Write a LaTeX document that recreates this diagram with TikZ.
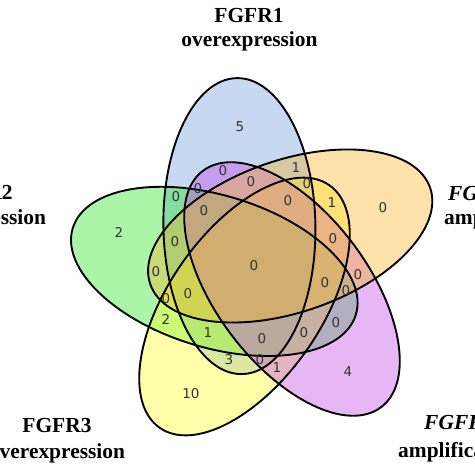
\documentclass[tikz,border=0pt]{standalone}
\usepackage{fontspec}
\setmainfont{Liberation Serif}
\newfontfamily\countfont{DejaVu Sans}
\usetikzlibrary{positioning}
\definecolor{SetBlue}{RGB}{112,157,222}
\definecolor{SetOrange}{RGB}{247,180,42}
\definecolor{SetGreen}{RGB}{42,230,37}
\definecolor{SetYellow}{RGB}{255,255,42}
\definecolor{SetPurple}{RGB}{192,72,230}
\definecolor{CountGray}{RGB}{50,50,50}

\begin{document}
\begin{tikzpicture}[x=0.03cm, y=0.03cm,
  every node/.style={font=\countfont\fontsize{11.5}{13}\selectfont, text=CountGray, inner sep=0pt},
  setlabel/.style={font=\bfseries\fontsize{18.3}{22}\selectfont, text=black, anchor=base},
  setfill/.style={fill opacity=0.4},
  setline/.style={draw=black, line width=1.6pt}]
  \useasboundingbox (0,0) rectangle (474,474);
  \clip (0,0) rectangle (474,474);

  % fills first, outlines on top
  \fill[setfill, SetBlue, rotate around={91:(239.4,247.9)}] (239.4,247.9) ellipse [x radius=148, y radius=76];
  \fill[setfill, SetGreen, rotate around={163:(214.3,202.6)}] (214.3,202.6) ellipse [x radius=148, y radius=76];
  \fill[setfill, SetYellow, rotate around={-125:(244.5,167.5)}] (244.5,167.5) ellipse [x radius=148, y radius=76];
  \fill[setfill, SetPurple, rotate around={-53:(292.0,185.0)}] (292.0,185.0) ellipse [x radius=148, y radius=76];
  \fill[setfill, SetOrange, rotate around={19:(290.2,238.0)}] (290.2,238.0) ellipse [x radius=148, y radius=76];
  \draw[setline, rotate around={91:(239.4,247.9)}] (239.4,247.9) ellipse [x radius=148, y radius=76];
  \draw[setline, rotate around={163:(214.3,202.6)}] (214.3,202.6) ellipse [x radius=148, y radius=76];
  \draw[setline, rotate around={-125:(244.5,167.5)}] (244.5,167.5) ellipse [x radius=148, y radius=76];
  \draw[setline, rotate around={-53:(292.0,185.0)}] (292.0,185.0) ellipse [x radius=148, y radius=76];
  \draw[setline, rotate around={19:(290.2,238.0)}] (290.2,238.0) ellipse [x radius=148, y radius=76];

  % set names
  \node[setlabel] (fgfr1) at (249,451) {FGFR1};
  \node[setlabel] (fgfr1b) at (249.5,427) {overexpression};
  \node[setlabel] (fgfr2) at (-22,274) {FGFR2};
  \node[setlabel] (fgfr2b) at (-22,249) {overexpression};
  \node[setlabel] (fgfr3) at (57,41) {FGFR3};
  \node[setlabel] (fgfr3b) at (57,15) {overexpression};
  \node[setlabel, anchor=base west] (amp1) at (448,273) {\itshape FGFR1};
  \node[setlabel, anchor=base west] (amp1b) at (444,249) {amplification};
  \node[setlabel, anchor=base west] (amp2) at (424,44) {\itshape FGFR2};
  \node[setlabel, anchor=base west] (amp2b) at (398,17) {amplification};

  % region counts
  \node (r01) at (240,347) {5};
  \node (r02) at (223,303) {0};
  \node (r03) at (296,306) {1};
  \node (r04) at (251,292) {0};
  \node (r05) at (307,290) {0};
  \node (r06) at (288,273) {0};
  \node (r07) at (332,271) {1};
  \node (r08) at (383,266) {0};
  \node (r09) at (176,277) {0};
  \node (r10) at (198,285) {0};
  \node (r11) at (204,263) {0};
  \node (r12) at (119,241) {2};
  \node (r13) at (175,232) {0};
  \node (r14) at (333,235) {0};
  \node (r15) at (156,202) {0};
  \node (r16) at (254,208) {0};
  \node (r17) at (358,199) {0};
  \node (r18) at (325,191) {0};
  \node (r19) at (346,183) {0};
  \node (r20) at (188,180) {0};
  \node (r21) at (166,175) {0};
  \node (r22) at (166,154) {2};
  \node (r23) at (208,141) {1};
  \node (r24) at (262,135) {0};
  \node (r25) at (304,141) {0};
  \node (r26) at (336,151) {0};
  \node (r27) at (229,114) {3};
  \node (r28) at (260,114) {0};
  \node (r29) at (277,106) {1};
  \node (r30) at (348,102) {4};
  \node (r31) at (191,80) {10};
\end{tikzpicture}
\end{document}
